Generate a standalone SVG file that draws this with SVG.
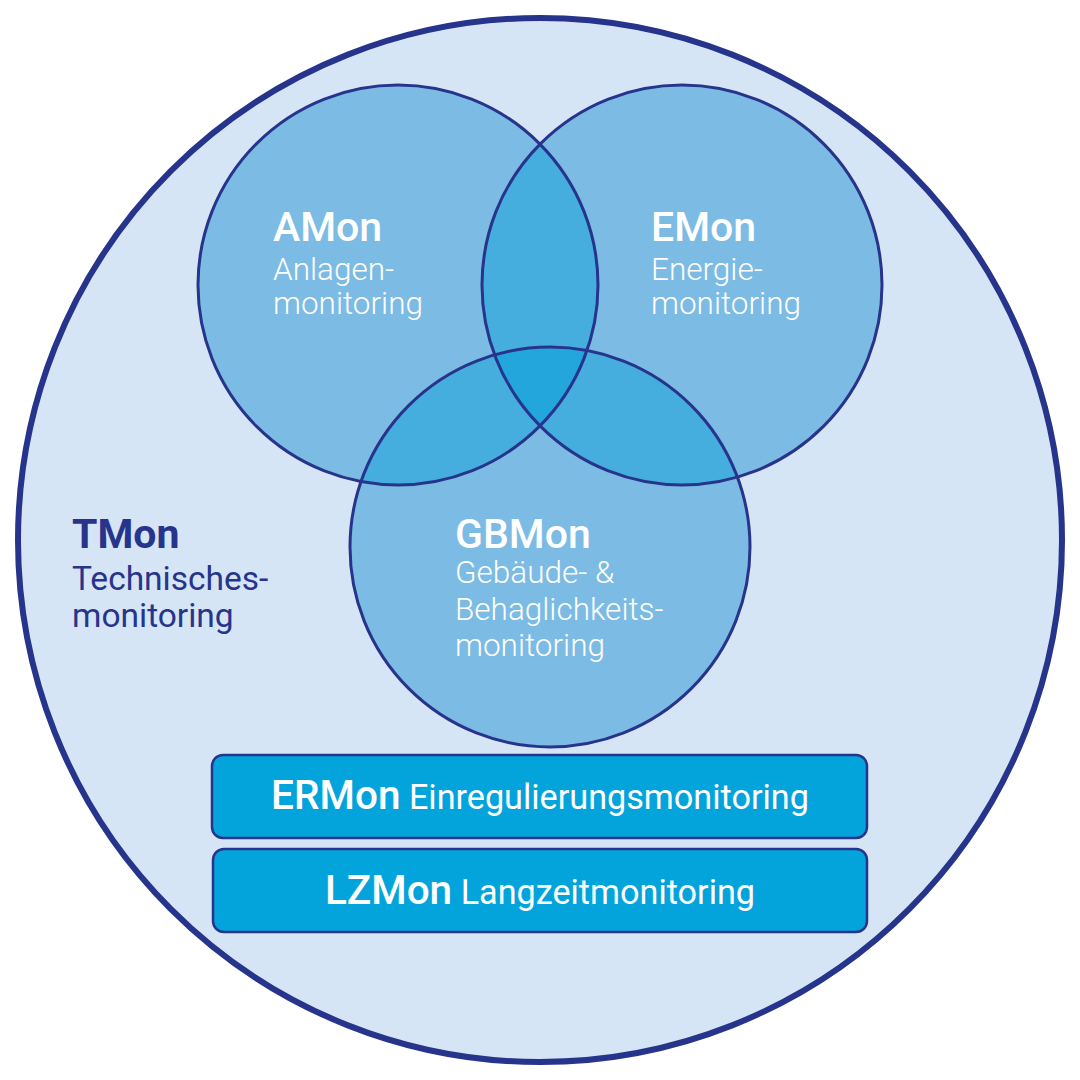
<svg xmlns="http://www.w3.org/2000/svg" width="1080" height="1080" viewBox="0 0 1080 1080">
<style>
.ring{fill:none;stroke:#27348b;stroke-width:3}
.set{fill:#7cbbe4}
.pair{fill:#46aedf}
.tri{fill:#22a6db}
.t{font-family:Roboto,"Liberation Sans",sans-serif;fill:#ffffff}
.h{font-size:41px;font-weight:500}
.s{font-size:31.5px;font-weight:300}
.dk{fill:#27348b}
.th{font-size:41px;font-weight:700}
.ts{font-size:33.5px;font-weight:400}
.box{fill:#03a4db;stroke:#27348b;stroke-width:2.5}
.bh{font-size:40.5px;font-weight:500}
.bs{font-size:34.2px;font-weight:400}
</style>
<defs>
<clipPath id="cA"><circle cx="398" cy="285" r="200"/></clipPath>
<clipPath id="cE"><circle cx="682" cy="285" r="200"/></clipPath>
<clipPath id="cG"><circle cx="550" cy="547" r="200"/></clipPath>
</defs>
<rect width="1080" height="1080" fill="#ffffff"/>
<g id="tmon">
<circle cx="540" cy="540" r="522" fill="#d5e5f6" stroke="#27348b" stroke-width="6"/>
<text class="t dk th" x="72" y="548">TMon</text>
<text class="t dk ts" x="72" y="590">Technisches-</text>
<text class="t dk ts" x="72" y="627">monitoring</text>
</g>
<g id="fills">
<circle class="set" cx="398" cy="285" r="200"/>
<circle class="set" cx="682" cy="285" r="200"/>
<circle class="set" cx="550" cy="547" r="200"/>
<circle class="pair" cx="682" cy="285" r="200" clip-path="url(#cA)"/>
<circle class="pair" cx="550" cy="547" r="200" clip-path="url(#cA)"/>
<circle class="pair" cx="550" cy="547" r="200" clip-path="url(#cE)"/>
<g clip-path="url(#cA)"><circle class="tri" cx="550" cy="547" r="200" clip-path="url(#cE)"/></g>
</g>
<g id="amon">
<circle class="ring" cx="398" cy="285" r="200"/>
<text class="t h" x="273" y="241">AMon</text>
<text class="t s" x="273" y="280">Anlagen-</text>
<text class="t s" x="273" y="314">monitoring</text>
</g>
<g id="emon">
<circle class="ring" cx="682" cy="285" r="200"/>
<text class="t h" x="651" y="241">EMon</text>
<text class="t s" x="651" y="280">Energie-</text>
<text class="t s" x="651" y="314">monitoring</text>
</g>
<g id="gbmon">
<circle class="ring" cx="550" cy="547" r="200"/>
<text class="t h" x="455" y="548">GBMon</text>
<text class="t s" x="455" y="583">Gebäude- &amp;</text>
<text class="t s" x="455" y="620">Behaglichkeits-</text>
<text class="t s" x="455" y="656">monitoring</text>
</g>
<g id="ermon">
<rect class="box" x="212" y="755" width="655" height="83" rx="11"/>
<text class="t" x="540" y="809" text-anchor="middle"><tspan class="bh">ERMon</tspan><tspan class="bs"> Einregulierungsmonitoring</tspan></text>
</g>
<g id="lzmon">
<rect class="box" x="213" y="849" width="654" height="83" rx="11"/>
<text class="t" x="540" y="904" text-anchor="middle"><tspan class="bh">LZMon</tspan><tspan class="bs"> Langzeitmonitoring</tspan></text>
</g>
<g id="connectors"/>
</svg>
